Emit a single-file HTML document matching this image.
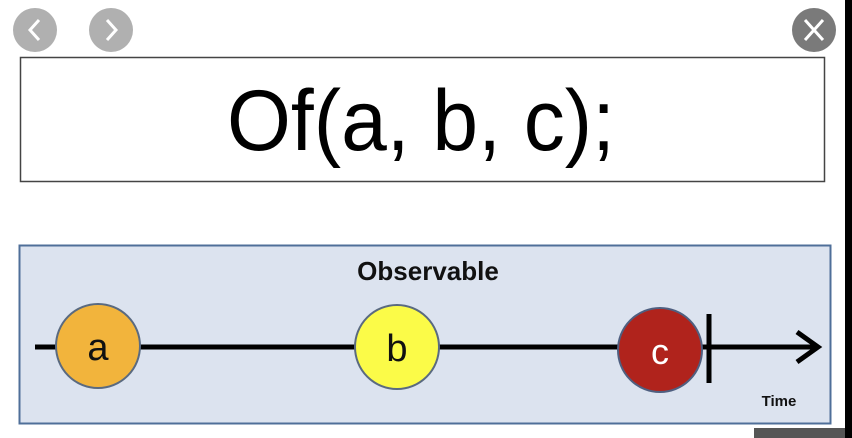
<!DOCTYPE html>
<html><head><meta charset="utf-8"><style>
html,body{margin:0;padding:0;background:#fff;width:852px;height:438px;overflow:hidden}
</style></head><body>
<svg width="852" height="438" viewBox="0 0 852 438" xmlns="http://www.w3.org/2000/svg" font-family="Liberation Sans, sans-serif">
<rect x="0" y="0" width="852" height="438" fill="#fff"/>
<rect x="845" y="0" width="7" height="438" fill="#000"/>
<circle cx="35" cy="30" r="22" fill="#b0b0b0"/>
<polyline points="39,20 30,30 39,40" fill="none" stroke="#fff" stroke-width="3"/>
<circle cx="111" cy="30" r="22" fill="#b0b0b0"/>
<polyline points="107,20 116,30 107,40" fill="none" stroke="#fff" stroke-width="3"/>
<circle cx="814" cy="30" r="22" fill="#7a7a7a"/>
<path d="M805,20 L823,40 M823,20 L805,40" stroke="#fff" stroke-width="3"/>
<rect x="20.5" y="57.5" width="804" height="124" fill="#fff" stroke="#444" stroke-width="1.5"/>
<text x="227" y="150" font-size="86" textLength="388" lengthAdjust="spacingAndGlyphs" fill="#000">Of(a, b, c);</text>
<rect x="19.5" y="245.5" width="811" height="178" fill="#dce3ef" stroke="#4f6f99" stroke-width="2"/>
<text x="428" y="280" font-size="26" font-weight="bold" text-anchor="middle" fill="#111">Observable</text>
<line x1="35" y1="347" x2="818" y2="347" stroke="#000" stroke-width="5"/>
<polyline points="797,332 818,347 797,362" fill="none" stroke="#000" stroke-width="5"/>
<line x1="709" y1="314" x2="709" y2="383" stroke="#000" stroke-width="5"/>
<circle cx="98" cy="346" r="42" fill="#f2b43c" stroke="#5a6a80" stroke-width="2"/>
<text x="98" y="360" font-size="38" text-anchor="middle" fill="#111">a</text>
<circle cx="397" cy="347" r="42" fill="#fbfb48" stroke="#5a6a80" stroke-width="2"/>
<text x="397" y="361" font-size="38" text-anchor="middle" fill="#111">b</text>
<circle cx="660" cy="350" r="42" fill="#b0231c" stroke="#4f5f80" stroke-width="2"/>
<text x="660" y="364" font-size="36" text-anchor="middle" fill="#fff">c</text>
<text x="779" y="406" font-size="15" font-weight="bold" text-anchor="middle" fill="#111">Time</text>
<rect x="754" y="428" width="91" height="10" fill="#555"/>
</svg>
</body></html>
